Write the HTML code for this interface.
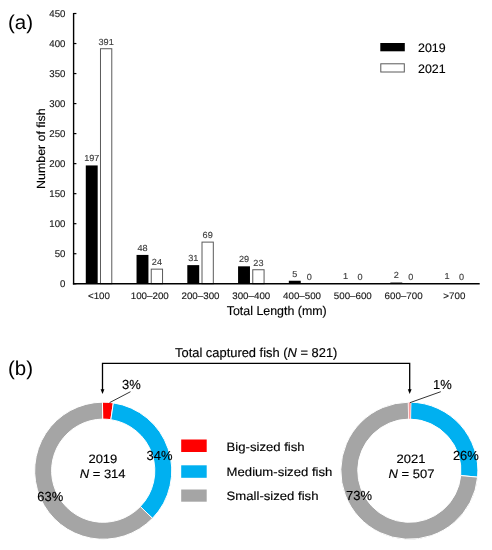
<!DOCTYPE html>
<html><head><meta charset="utf-8"><title>Fish length distribution</title>
<style>html,body{margin:0;padding:0;background:#fff;}body{width:492px;height:550px;overflow:hidden;}svg{display:block;}</style>
</head><body>
<svg width="492" height="550" viewBox="0 0 492 550" font-family="'Liberation Sans', Arial, sans-serif" text-rendering="geometricPrecision">
<rect x="0" y="0" width="492" height="550" fill="#fff"/>
<text transform="translate(7.96,28.62) scale(1.03,1)" font-size="19.9" fill="#000">(a)</text>
<line x1="73.6" y1="283.75" x2="76.40" y2="283.75" stroke="#000" stroke-width="1.2"/>
<text transform="translate(65.40,286.75) scale(0.985,1)" font-size="9.8" text-anchor="end" fill="#1a1a1a" stroke="#1a1a1a" stroke-width="0.15">0</text>
<line x1="73.6" y1="253.72" x2="76.40" y2="253.72" stroke="#000" stroke-width="1.2"/>
<text transform="translate(65.40,256.72) scale(0.985,1)" font-size="9.8" text-anchor="end" fill="#1a1a1a" stroke="#1a1a1a" stroke-width="0.15">50</text>
<line x1="73.6" y1="223.69" x2="76.40" y2="223.69" stroke="#000" stroke-width="1.2"/>
<text transform="translate(65.40,226.69) scale(0.985,1)" font-size="9.8" text-anchor="end" fill="#1a1a1a" stroke="#1a1a1a" stroke-width="0.15">100</text>
<line x1="73.6" y1="193.67" x2="76.40" y2="193.67" stroke="#000" stroke-width="1.2"/>
<text transform="translate(65.40,196.67) scale(0.985,1)" font-size="9.8" text-anchor="end" fill="#1a1a1a" stroke="#1a1a1a" stroke-width="0.15">150</text>
<line x1="73.6" y1="163.64" x2="76.40" y2="163.64" stroke="#000" stroke-width="1.2"/>
<text transform="translate(65.40,166.64) scale(0.985,1)" font-size="9.8" text-anchor="end" fill="#1a1a1a" stroke="#1a1a1a" stroke-width="0.15">200</text>
<line x1="73.6" y1="133.61" x2="76.40" y2="133.61" stroke="#000" stroke-width="1.2"/>
<text transform="translate(65.40,136.61) scale(0.985,1)" font-size="9.8" text-anchor="end" fill="#1a1a1a" stroke="#1a1a1a" stroke-width="0.15">250</text>
<line x1="73.6" y1="103.58" x2="76.40" y2="103.58" stroke="#000" stroke-width="1.2"/>
<text transform="translate(65.40,106.58) scale(0.985,1)" font-size="9.8" text-anchor="end" fill="#1a1a1a" stroke="#1a1a1a" stroke-width="0.15">300</text>
<line x1="73.6" y1="73.56" x2="76.40" y2="73.56" stroke="#000" stroke-width="1.2"/>
<text transform="translate(65.40,76.56) scale(0.985,1)" font-size="9.8" text-anchor="end" fill="#1a1a1a" stroke="#1a1a1a" stroke-width="0.15">350</text>
<line x1="73.6" y1="43.53" x2="76.40" y2="43.53" stroke="#000" stroke-width="1.2"/>
<text transform="translate(65.40,46.53) scale(0.985,1)" font-size="9.8" text-anchor="end" fill="#1a1a1a" stroke="#1a1a1a" stroke-width="0.15">400</text>
<line x1="73.6" y1="13.50" x2="76.40" y2="13.50" stroke="#000" stroke-width="1.2"/>
<text transform="translate(65.40,16.50) scale(0.985,1)" font-size="9.8" text-anchor="end" fill="#1a1a1a" stroke="#1a1a1a" stroke-width="0.15">450</text>
<text transform="translate(44.60,188.90) rotate(-90) scale(1.05,1)" font-size="11.8" fill="#000" stroke="#000" stroke-width="0.15">Number of fish</text>
<rect x="85.78" y="165.44" width="11.9" height="118.31" fill="#000"/>
<rect x="100.48" y="48.73" width="11.3" height="235.02" fill="#fff" stroke="#5a5a5a" stroke-width="1"/>
<text transform="translate(91.73,161.34) scale(1.035,1)" font-size="8.8" text-anchor="middle" fill="#404040" stroke="#404040" stroke-width="0.15">197</text>
<text transform="translate(106.13,44.83) scale(1.035,1)" font-size="8.8" text-anchor="middle" fill="#404040" stroke="#404040" stroke-width="0.15">391</text>
<text transform="translate(98.98,299.20) scale(1.035,1)" font-size="9.45" text-anchor="middle" fill="#1a1a1a" stroke="#1a1a1a" stroke-width="0.15">&lt;100</text>
<rect x="136.54" y="254.92" width="11.9" height="28.83" fill="#000"/>
<rect x="151.24" y="269.14" width="11.3" height="14.61" fill="#fff" stroke="#5a5a5a" stroke-width="1"/>
<text transform="translate(142.49,250.82) scale(1.035,1)" font-size="8.8" text-anchor="middle" fill="#404040" stroke="#404040" stroke-width="0.15">48</text>
<text transform="translate(156.89,265.24) scale(1.035,1)" font-size="8.8" text-anchor="middle" fill="#404040" stroke="#404040" stroke-width="0.15">24</text>
<text transform="translate(149.74,299.20) scale(1.035,1)" font-size="9.45" text-anchor="middle" fill="#1a1a1a" stroke="#1a1a1a" stroke-width="0.15">100–200</text>
<rect x="187.31" y="265.13" width="11.9" height="18.62" fill="#000"/>
<rect x="202.01" y="242.11" width="11.3" height="41.64" fill="#fff" stroke="#5a5a5a" stroke-width="1"/>
<text transform="translate(193.26,261.03) scale(1.035,1)" font-size="8.8" text-anchor="middle" fill="#404040" stroke="#404040" stroke-width="0.15">31</text>
<text transform="translate(207.66,238.21) scale(1.035,1)" font-size="8.8" text-anchor="middle" fill="#404040" stroke="#404040" stroke-width="0.15">69</text>
<text transform="translate(200.51,299.20) scale(1.035,1)" font-size="9.45" text-anchor="middle" fill="#1a1a1a" stroke="#1a1a1a" stroke-width="0.15">200–300</text>
<rect x="238.07" y="266.33" width="11.9" height="17.42" fill="#000"/>
<rect x="252.77" y="269.74" width="11.3" height="14.01" fill="#fff" stroke="#5a5a5a" stroke-width="1"/>
<text transform="translate(244.02,262.23) scale(1.035,1)" font-size="8.8" text-anchor="middle" fill="#404040" stroke="#404040" stroke-width="0.15">29</text>
<text transform="translate(258.42,265.84) scale(1.035,1)" font-size="8.8" text-anchor="middle" fill="#404040" stroke="#404040" stroke-width="0.15">23</text>
<text transform="translate(251.27,299.20) scale(1.035,1)" font-size="9.45" text-anchor="middle" fill="#1a1a1a" stroke="#1a1a1a" stroke-width="0.15">300–400</text>
<rect x="288.83" y="280.75" width="11.9" height="3.00" fill="#000"/>
<text transform="translate(294.78,276.65) scale(1.035,1)" font-size="8.8" text-anchor="middle" fill="#404040" stroke="#404040" stroke-width="0.15">5</text>
<text transform="translate(309.18,279.65) scale(1.035,1)" font-size="8.8" text-anchor="middle" fill="#404040" stroke="#404040" stroke-width="0.15">0</text>
<text transform="translate(302.03,299.20) scale(1.035,1)" font-size="9.45" text-anchor="middle" fill="#1a1a1a" stroke="#1a1a1a" stroke-width="0.15">400–500</text>
<rect x="339.59" y="283.15" width="11.9" height="0.60" fill="#000"/>
<text transform="translate(345.54,279.05) scale(1.035,1)" font-size="8.8" text-anchor="middle" fill="#404040" stroke="#404040" stroke-width="0.15">1</text>
<text transform="translate(359.94,279.65) scale(1.035,1)" font-size="8.8" text-anchor="middle" fill="#404040" stroke="#404040" stroke-width="0.15">0</text>
<text transform="translate(352.79,299.20) scale(1.035,1)" font-size="9.45" text-anchor="middle" fill="#1a1a1a" stroke="#1a1a1a" stroke-width="0.15">500–600</text>
<rect x="390.36" y="282.55" width="11.9" height="1.20" fill="#000"/>
<text transform="translate(396.31,278.45) scale(1.035,1)" font-size="8.8" text-anchor="middle" fill="#404040" stroke="#404040" stroke-width="0.15">2</text>
<text transform="translate(410.71,279.65) scale(1.035,1)" font-size="8.8" text-anchor="middle" fill="#404040" stroke="#404040" stroke-width="0.15">0</text>
<text transform="translate(403.56,299.20) scale(1.035,1)" font-size="9.45" text-anchor="middle" fill="#1a1a1a" stroke="#1a1a1a" stroke-width="0.15">600–700</text>
<rect x="441.12" y="283.15" width="11.9" height="0.60" fill="#000"/>
<text transform="translate(447.07,279.05) scale(1.035,1)" font-size="8.8" text-anchor="middle" fill="#404040" stroke="#404040" stroke-width="0.15">1</text>
<text transform="translate(461.47,279.65) scale(1.035,1)" font-size="8.8" text-anchor="middle" fill="#404040" stroke="#404040" stroke-width="0.15">0</text>
<text transform="translate(454.32,299.20) scale(1.035,1)" font-size="9.45" text-anchor="middle" fill="#1a1a1a" stroke="#1a1a1a" stroke-width="0.15">&gt;700</text>
<line x1="73.6" y1="12.9" x2="73.6" y2="284.45" stroke="#000" stroke-width="1.4"/>
<line x1="72.89999999999999" y1="283.75" x2="479.7" y2="283.75" stroke="#000" stroke-width="1.4"/>
<text transform="translate(276.75,314.60) scale(0.985,1)" font-size="12.6" text-anchor="middle" fill="#000" stroke="#000" stroke-width="0.15">Total Length (mm)</text>
<rect x="380.3" y="43" width="24.5" height="8.3" fill="#000"/>
<rect x="380.8" y="63.8" width="23.5" height="8.2" fill="#fff" stroke="#5a5a5a" stroke-width="1"/>
<text transform="translate(418.05,51.65) scale(1.01,1)" font-size="12.3" fill="#000" stroke="#000" stroke-width="0.15">2019</text>
<text transform="translate(418.05,73.05) scale(1.01,1)" font-size="12.3" fill="#000" stroke="#000" stroke-width="0.15">2021</text>
<text transform="translate(7.96,374.67) scale(1.03,1)" font-size="19.9" fill="#000">(b)</text>
<polyline points="102.5,390 102.5,363.4 409.7,363.4 409.7,390" fill="none" stroke="#000" stroke-width="1.3"/>
<polygon points="100.6,389.3 104.4,389.3 102.5,394" fill="#000"/>
<polygon points="407.8,389.3 411.6,389.3 409.7,394" fill="#000"/>
<text transform="translate(175.06,357.04)" font-size="12.9" fill="#000" stroke="#000" stroke-width="0.15">Total captured fish (<tspan font-style="italic">N</tspan> = 821)</text>
<path d="M102.48,402.15 A68.55,68.55 0 0 1 113.33,402.90 L110.83,419.67 A51.6,51.6 0 0 0 102.66,419.10 Z" fill="#FF0000" stroke="#fff" stroke-width="1"/>
<path d="M113.33,402.90 A68.55,68.55 0 0 1 152.51,518.32 L140.32,506.54 A51.6,51.6 0 0 0 110.83,419.67 Z" fill="#00B0F0" stroke="#fff" stroke-width="1"/>
<path d="M152.51,518.32 A68.55,68.55 0 1 1 102.48,402.15 L102.66,419.10 A51.6,51.6 0 1 0 140.32,506.54 Z" fill="#A5A5A5" stroke="#fff" stroke-width="1"/>
<path d="M410.67,402.16 A68.55,68.55 0 0 1 477.60,477.15 L460.72,475.56 A51.6,51.6 0 0 0 410.34,419.11 Z" fill="#00B0F0" stroke="#fff" stroke-width="1"/>
<path d="M477.60,477.15 A68.55,68.55 0 1 1 408.33,402.16 L408.58,419.11 A51.6,51.6 0 1 0 460.72,475.56 Z" fill="#A5A5A5" stroke="#fff" stroke-width="1"/>
<path d="M408.33,402.16 A68.55,68.55 0 0 1 411.08,402.17 L410.66,419.12 A51.6,51.6 0 0 0 408.58,419.11 Z" fill="#FA9B9B" stroke="#fff" stroke-width="0.6"/>
<line x1="130.5" y1="391.7" x2="109.5" y2="402.7" stroke="#000" stroke-width="0.8"/>
<line x1="440.8" y1="391.7" x2="409.9" y2="402.7" stroke="#000" stroke-width="0.8"/>
<text transform="translate(121.99,388.85) scale(0.99,1)" font-size="13.1" fill="#000" stroke="#000" stroke-width="0.15">3%</text>
<text transform="translate(432.92,388.85) scale(0.99,1)" font-size="13.1" fill="#000" stroke="#000" stroke-width="0.15">1%</text>
<text transform="translate(146.59,459.85) scale(0.99,1)" font-size="13.1" fill="#000" stroke="#000" stroke-width="0.15">34%</text>
<text transform="translate(37.21,500.50) scale(0.99,1)" font-size="13.1" fill="#000" stroke="#000" stroke-width="0.15">63%</text>
<text transform="translate(452.91,460.10) scale(0.99,1)" font-size="13.1" fill="#000" stroke="#000" stroke-width="0.15">26%</text>
<text transform="translate(345.97,500.45) scale(0.99,1)" font-size="13.1" fill="#000" stroke="#000" stroke-width="0.15">73%</text>
<text transform="translate(88.41,462.75) scale(1.065,1)" font-size="12.2" fill="#000" stroke="#000" stroke-width="0.15">2019</text>
<text transform="translate(79.71,477.65) scale(1.065,1)" font-size="12.2" fill="#000" stroke="#000" stroke-width="0.15"><tspan font-style="italic">N</tspan> = 314</text>
<text transform="translate(396.61,462.75) scale(1.065,1)" font-size="12.2" fill="#000" stroke="#000" stroke-width="0.15">2021</text>
<text transform="translate(388.61,477.65) scale(1.065,1)" font-size="12.2" fill="#000" stroke="#000" stroke-width="0.15"><tspan font-style="italic">N</tspan> = 507</text>
<rect x="181.2" y="439.5" width="25.5" height="12.5" fill="#FF0000"/>
<rect x="181.2" y="465.3" width="25.5" height="12.5" fill="#00B0F0"/>
<rect x="181.2" y="489.5" width="25.5" height="12.2" fill="#A5A5A5"/>
<text transform="translate(226.60,450.60) scale(1.085,1)" font-size="12.1" fill="#000" stroke="#000" stroke-width="0.15">Big-sized fish</text>
<text transform="translate(226.60,476.10) scale(1.085,1)" font-size="12.1" fill="#000" stroke="#000" stroke-width="0.15">Medium-sized fish</text>
<text transform="translate(226.60,500.30) scale(1.085,1)" font-size="12.1" fill="#000" stroke="#000" stroke-width="0.15">Small-sized fish</text>
</svg>
</body></html>
